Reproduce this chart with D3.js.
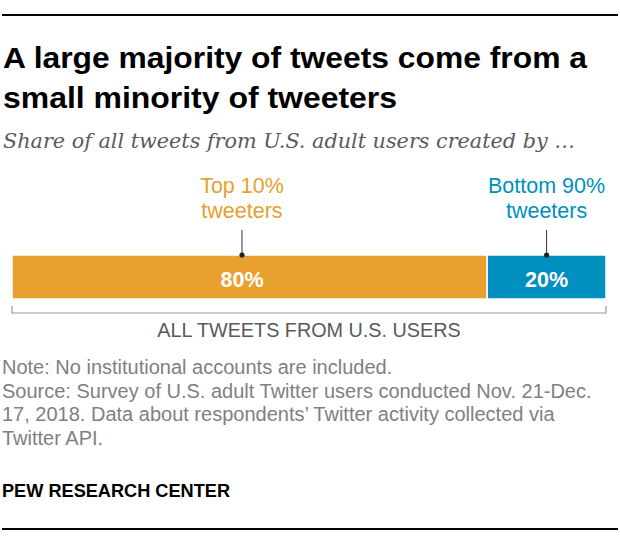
<!DOCTYPE html>
<html lang="en">
<head>
    <meta charset="UTF-8">
    <title>A large majority of tweets come from a small minority of tweeters</title>
    <script src="https://d3js.org/d3.v7.min.js"></script>
    <style>
        body { margin: 0; background: #fff; }
        .title { font-family: "Liberation Sans", Arial, sans-serif; font-weight: bold; font-size: 29px; fill: #000; }
        .subtitle { font-family: "DejaVu Serif", Georgia, serif; font-style: italic; font-size: 19.5px; fill: #5a5a5a; }
        .label { font-family: "Liberation Sans", Arial, sans-serif; font-size: 21.5px; text-anchor: middle; }
        .value { font-family: "Liberation Sans", Arial, sans-serif; font-weight: bold; font-size: 21.5px; fill: #fff; text-anchor: middle; }
        .axis-label { font-family: "Liberation Sans", Arial, sans-serif; font-size: 19.8px; fill: #595959; text-anchor: middle; }
        .note { font-family: "Liberation Sans", Arial, sans-serif; font-size: 20px; fill: #808080; }
        .source { font-family: "Liberation Sans", Arial, sans-serif; font-weight: bold; font-size: 19px; fill: #000; }
    </style>
</head>
<body>
    <svg width="620" height="546"></svg>
    <script>
        const width = 620;
        const height = 546;

        // Data
        const groups = ["Top 10%\ntweeters", "Bottom 90%\ntweeters"];
        const shares = [80, 20];
        const colors = ["#e8a02f", "#0090bf"];

        const svg = d3.select("svg");

        // rules top and bottom
        svg.append("line").attr("x1", 2).attr("x2", 618).attr("y1", 15).attr("y2", 15)
            .attr("stroke", "#000").attr("stroke-width", 2);
        svg.append("line").attr("x1", 2).attr("x2", 618).attr("y1", 529).attr("y2", 529)
            .attr("stroke", "#000").attr("stroke-width", 2);

        // title + subtitle (stretched a bit to mimic the wider condensed face)
        svg.append("text").attr("class", "title").attr("x", 3).attr("y", 68)
            .attr("textLength", 584).attr("lengthAdjust", "spacingAndGlyphs")
            .text("A large majority of tweets come from a");
        svg.append("text").attr("class", "title").attr("x", 3).attr("y", 108)
            .attr("textLength", 394).attr("lengthAdjust", "spacingAndGlyphs")
            .text("small minority of tweeters");
        svg.append("text").attr("class", "subtitle").attr("x", 3).attr("y", 148)
            .attr("textLength", 572).attr("lengthAdjust", "spacingAndGlyphs")
            .text("Share of all tweets from U.S. adult users created by …");

        // stacked bar
        const x = d3.scaleLinear().domain([0, d3.sum(shares)]).range([12, 606]);
        const barTop = 255, barH = 44;

        const stack = shares.map((v, i) => ({
            group: groups[i], value: v, color: colors[i],
            start: d3.sum(shares.slice(0, i)), end: d3.sum(shares.slice(0, i + 1))
        }));

        svg.selectAll(".bar")
            .data(stack)
            .enter().append("rect")
            .attr("class", "bar")
            .attr("x", d => x(d.start))
            .attr("y", barTop)
            .attr("width", d => x(d.end) - x(d.start))
            .attr("height", barH)
            .attr("fill", d => d.color)
            .attr("stroke", "#fff")
            .attr("stroke-width", 1.5);

        // label position (the orange one sits a little left of the segment centre)
        const labelX = d => d.start === 0
            ? x(d.start) + (x(d.end) - x(d.start)) * 0.484
            : (x(d.start) + x(d.end)) / 2;

        svg.selectAll(".value")
            .data(stack)
            .enter().append("text")
            .attr("class", "value")
            .attr("x", labelX)
            .attr("y", barTop + 32)
            .text(d => d.value + "%");

        const lab = svg.selectAll(".label")
            .data(stack)
            .enter().append("text")
            .attr("class", "label")
            .attr("fill", d => d.color)
            .attr("x", labelX)
            .attr("y", 193);
        lab.selectAll("tspan")
            .data(d => d.group.split("\n").map(t => ({t, x: labelX(d)})))
            .enter().append("tspan")
            .attr("x", t => t.x)
            .attr("dy", (t, i) => i ? 24.5 : 0)
            .text(t => t.t);

        // leader lines + dots
        svg.selectAll(".leader")
            .data(stack)
            .enter().append("line")
            .attr("x1", labelX).attr("x2", labelX)
            .attr("y1", 230).attr("y2", 255)
            .attr("stroke", "#333").attr("stroke-width", 1);
        svg.selectAll(".dot")
            .data(stack)
            .enter().append("circle")
            .attr("cx", labelX).attr("cy", 255).attr("r", 2.6)
            .attr("fill", "#222");

        // bracket
        svg.append("path")
            .attr("d", `M${x(0)},306 V313 H${x(100)} V306`)
            .attr("fill", "none").attr("stroke", "#999").attr("stroke-width", 1.2);
        svg.append("text").attr("class", "axis-label")
            .attr("x", (x(0) + x(100)) / 2).attr("y", 337)
            .text("ALL TWEETS FROM U.S. USERS");

        // notes
        const notes = [
            "Note: No institutional accounts are included.",
            "Source: Survey of U.S. adult Twitter users conducted Nov. 21-Dec.",
            "17, 2018. Data about respondents’ Twitter activity collected via",
            "Twitter API."
        ];
        svg.selectAll(".note")
            .data(notes)
            .enter().append("text")
            .attr("class", "note")
            .attr("x", 2)
            .attr("y", (d, i) => 374 + i * 23.5)
            .text(d => d);

        svg.append("text").attr("class", "source").attr("x", 2).attr("y", 497)
            .attr("textLength", 228).attr("lengthAdjust", "spacingAndGlyphs")
            .text("PEW RESEARCH CENTER");
    </script>
</body>
</html>
